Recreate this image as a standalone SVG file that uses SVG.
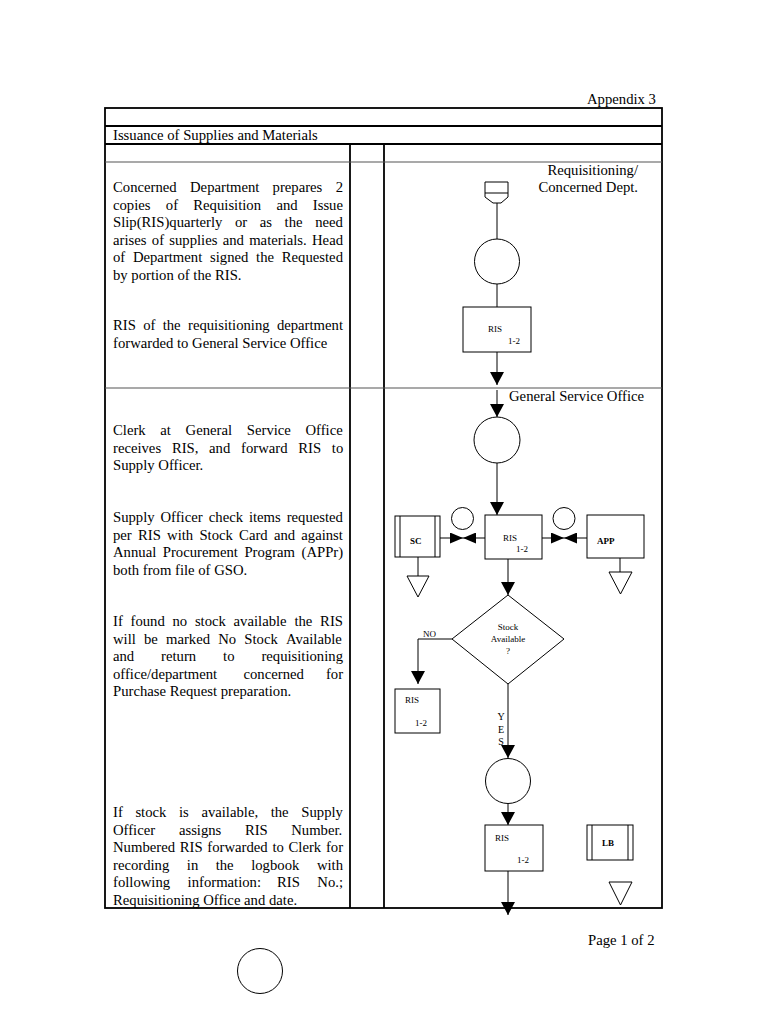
<svg xmlns="http://www.w3.org/2000/svg" width="768" height="1024" viewBox="0 0 768 1024">
<style>
text{font-family:"Liberation Serif","Times New Roman",serif;fill:#000}
.t{font-size:14.7px}
.s{font-size:9px}
.b{font-size:9px;font-weight:bold}
.y{font-size:10px;text-anchor:middle}
.sh{fill:#fff;stroke:#000;stroke-width:1}
.ln{stroke:#000;stroke-width:1;fill:none}
.tb{stroke:#000;stroke-width:1.8;fill:none}
.tt{stroke:#555;stroke-width:1.1;fill:none}
</style>
<defs>
<marker id="ah" viewBox="0 0 13 14" refX="13" refY="7" markerWidth="13" markerHeight="14" markerUnits="userSpaceOnUse" orient="auto"><path d="M0,0 L13,7 L0,14 Z" fill="#000"/></marker>
<marker id="ah2" viewBox="0 0 13 11" refX="13" refY="5.5" markerWidth="13" markerHeight="11" markerUnits="userSpaceOnUse" orient="auto"><path d="M0,0 L13,5.5 L0,11 Z" fill="#000"/></marker>
</defs>
<rect width="768" height="1024" fill="#fff"/>

<g id="page-text">
<text class="t" x="587" y="104">Appendix 3</text>
<text class="t" x="588" y="945">Page 1 of 2</text>
</g>

<g id="table">
<rect class="tb" x="105" y="108" width="557" height="800"/>
<path class="tb" d="M105,126 H662 M105,144 H662 M350,144 V908 M384,144 V908"/>
<path class="tt" d="M105,162 H662 M105,388 H662"/>
<text class="t" x="113" y="140">Issuance of Supplies and Materials</text>
</g>

<g id="desc-1">
<text class="t" y="192"><tspan x="113">Concerned</tspan><tspan x="190">Department</tspan><tspan x="272.6">prepares</tspan><tspan x="335.7">2</tspan></text>
<text class="t" y="209.5"><tspan x="113">copies</tspan><tspan x="165.8">of</tspan><tspan x="193.3">Requisition</tspan><tspan x="276.4">and</tspan><tspan x="312.8">Issue</tspan></text>
<text class="t" y="227"><tspan x="113">Slip(RIS)quarterly</tspan><tspan x="235">or</tspan><tspan x="259.8">as</tspan><tspan x="284.6">the</tspan><tspan x="315.2">need</tspan></text>
<text class="t" y="244.5"><tspan x="113">arises</tspan><tspan x="151.8">of</tspan><tspan x="169.3">supplies</tspan><tspan x="222.7">and</tspan><tspan x="249.2">materials.</tspan><tspan x="312">Head</tspan></text>
<text class="t" y="262"><tspan x="113">of</tspan><tspan x="132.9">Department</tspan><tspan x="210">signed</tspan><tspan x="256.1">the</tspan><tspan x="281.8">Requested</tspan></text>
<text class="t" x="113" y="279.5">by portion of the RIS.</text>
<text class="t" y="330"><tspan x="113">RIS</tspan><tspan x="143.2">of</tspan><tspan x="162.7">the</tspan><tspan x="188">requisitioning</tspan><tspan x="276.9">department</tspan></text>
<text class="t" x="113" y="347.5">forwarded to General Service Office</text>
</g>

<g id="desc-2">
<text class="t" y="435"><tspan x="113">Clerk</tspan><tspan x="160.3">at</tspan><tspan x="185.6">General</tspan><tspan x="246.8">Service</tspan><tspan x="305.5">Office</tspan></text>
<text class="t" y="452.5"><tspan x="113">receives</tspan><tspan x="171.9">RIS,</tspan><tspan x="209.1">and</tspan><tspan x="241">forward</tspan><tspan x="298.2">RIS</tspan><tspan x="331.8">to</tspan></text>
<text class="t" x="113" y="470">Supply Officer.</text>
<text class="t" y="522"><tspan x="113">Supply</tspan><tspan x="160.5">Officer</tspan><tspan x="208.8">check</tspan><tspan x="248.9">items</tspan><tspan x="286.7">requested</tspan></text>
<text class="t" y="539.5"><tspan x="113">per</tspan><tspan x="138">RIS</tspan><tspan x="167.1">with</tspan><tspan x="199.4">Stock</tspan><tspan x="239.1">Card</tspan><tspan x="273.9">and</tspan><tspan x="301.3">against</tspan></text>
<text class="t" y="557"><tspan x="113">Annual</tspan><tspan x="162.8">Procurement</tspan><tspan x="244.4">Program</tspan><tspan x="301.5">(APPr)</tspan></text>
<text class="t" x="113" y="574.5">both from file of GSO.</text>
<text class="t" y="626"><tspan x="113">If</tspan><tspan x="130.5">found</tspan><tspan x="172.5">no</tspan><tspan x="194.9">stock</tspan><tspan x="233.6">available</tspan><tspan x="294.4">the</tspan><tspan x="320.1">RIS</tspan></text>
<text class="t" y="643.5"><tspan x="113">will</tspan><tspan x="144">be</tspan><tspan x="166">marked</tspan><tspan x="218.2">No</tspan><tspan x="244.3">Stock</tspan><tspan x="285.9">Available</tspan></text>
<text class="t" y="661"><tspan x="113">and</tspan><tspan x="161.1">return</tspan><tspan x="223.1">to</tspan><tspan x="261.4">requisitioning</tspan></text>
<text class="t" y="678.5"><tspan x="113">office/department</tspan><tspan x="243.5">concerned</tspan><tspan x="325.9">for</tspan></text>
<text class="t" x="113" y="696">Purchase Request preparation.</text>
</g>

<g id="desc-3">
<text class="t" y="817"><tspan x="113">If</tspan><tspan x="135.4">stock</tspan><tspan x="179">is</tspan><tspan x="201.4">available,</tspan><tspan x="270.7">the</tspan><tspan x="301.3">Supply</tspan></text>
<text class="t" y="834.5"><tspan x="113">Officer</tspan><tspan x="178.9">assigns</tspan><tspan x="244.9">RIS</tspan><tspan x="291.2">Number.</tspan></text>
<text class="t" y="852"><tspan x="113">Numbered</tspan><tspan x="179.7">RIS</tspan><tspan x="207.3">forwarded</tspan><tspan x="272.4">to</tspan><tspan x="288.5">Clerk</tspan><tspan x="325.9">for</tspan></text>
<text class="t" y="869.5"><tspan x="113">recording</tspan><tspan x="186.8">in</tspan><tspan x="215.7">the</tspan><tspan x="251.2">logbook</tspan><tspan x="316.9">with</tspan></text>
<text class="t" y="887"><tspan x="113">following</tspan><tspan x="187.6">information:</tspan><tspan x="277">RIS</tspan><tspan x="317.3">No.;</tspan></text>
<text class="t" x="113" y="904.5">Requisitioning Office and date.</text>
</g>

<g id="lane-labels">
<text class="t" x="638" y="175" text-anchor="end">Requisitioning/</text>
<text class="t" x="638" y="192" text-anchor="end">Concerned Dept.</text>
<text class="t" x="509" y="401">General Service Office</text>
</g>

<g id="connectors">
<path class="ln" d="M497,203 V239"/>
<path class="ln" d="M497,284 V307"/>
<path class="ln" d="M497,352 V385" marker-end="url(#ah)"/>
<path class="ln" d="M497,390 V417" marker-end="url(#ah)"/>
<path class="ln" d="M497,463 V515" marker-end="url(#ah)"/>
<path class="ln" d="M440,538 H463" marker-end="url(#ah2)"/>
<path class="ln" d="M485,538 H463" marker-end="url(#ah2)"/>
<path class="ln" d="M542,538 H564" marker-end="url(#ah2)"/>
<path class="ln" d="M587,538 H564" marker-end="url(#ah2)"/>
<path class="ln" d="M418,557 V576"/>
<path class="ln" d="M620,558 V572"/>
<path class="ln" d="M508,559 V595" marker-end="url(#ah)"/>
<path class="ln" d="M452,639 H418 V684" marker-end="url(#ah)"/>
<path class="ln" d="M508,684 V758" marker-end="url(#ah)"/>
<path class="ln" d="M508,803.5 V825" marker-end="url(#ah)"/>
<path class="ln" d="M508,871 V915" marker-end="url(#ah)"/>
<text class="s" x="423" y="637">NO</text>
<text class="y" x="501" y="720">Y</text>
<text class="y" x="501" y="732.5">E</text>
<text class="y" x="501" y="745">S</text>
</g>

<g id="start-offpage">
<path class="sh" d="M485,182 H508 V197 L501,203 H493 L485,197 Z"/>
<path class="ln" d="M485,193 H508"/>
</g>
<g id="op-1"><circle class="sh" cx="497" cy="261.5" r="22.5"/></g>
<g id="ris-1">
<rect class="sh" x="463" y="307" width="68" height="45"/>
<text class="s" x="488" y="332">RIS</text>
<text class="s" x="508" y="344">1-2</text>
</g>
<g id="op-2"><circle class="sh" cx="497" cy="440" r="23"/></g>
<g id="sc">
<rect class="sh" x="395" y="516" width="45" height="41"/>
<path class="ln" d="M400,516 V557 M435,516 V557"/>
<text class="b" x="410" y="544">SC</text>
</g>
<g id="sc-file"><path class="sh" d="M407,576 H429 L418,597 Z"/></g>
<g id="cmp-1"><circle class="sh" cx="462.5" cy="518.5" r="11"/></g>
<g id="ris-2">
<rect class="sh" x="485" y="515" width="57" height="44"/>
<text class="s" x="503" y="541">RIS</text>
<text class="s" x="516" y="552">1-2</text>
</g>
<g id="cmp-2"><circle class="sh" cx="564" cy="518.5" r="11"/></g>
<g id="app">
<rect class="sh" x="587" y="515" width="57" height="43"/>
<text class="b" x="597" y="544">APP</text>
</g>
<g id="app-file"><path class="sh" d="M609,572 H632 L620.5,594 Z"/></g>
<g id="decision">
<path class="sh" d="M508,595 L564,639 L508,684 L452,639 Z"/>
<text class="s" x="508" y="630" text-anchor="middle">Stock</text>
<text class="s" x="508" y="642" text-anchor="middle">Available</text>
<text class="s" x="508" y="654" text-anchor="middle">?</text>
</g>
<g id="ris-no">
<rect class="sh" x="395" y="689" width="45" height="44"/>
<text class="s" x="405" y="703">RIS</text>
<text class="s" x="415" y="726">1-2</text>
</g>
<g id="op-3"><circle class="sh" cx="508" cy="781" r="22.5"/></g>
<g id="ris-3">
<rect class="sh" x="485" y="825" width="58" height="46"/>
<text class="s" x="495" y="841">RIS</text>
<text class="s" x="517" y="863">1-2</text>
</g>
<g id="lb">
<rect class="sh" x="587" y="825" width="46" height="35"/>
<path class="ln" d="M592,825 V860 M628,825 V860"/>
<text class="b" x="602" y="846">LB</text>
</g>
<g id="lb-file"><path class="sh" d="M609,882 H632 L620.5,905 Z"/></g>
<g id="page-connector"><circle class="sh" cx="260" cy="971" r="22.5"/></g>
</svg>
